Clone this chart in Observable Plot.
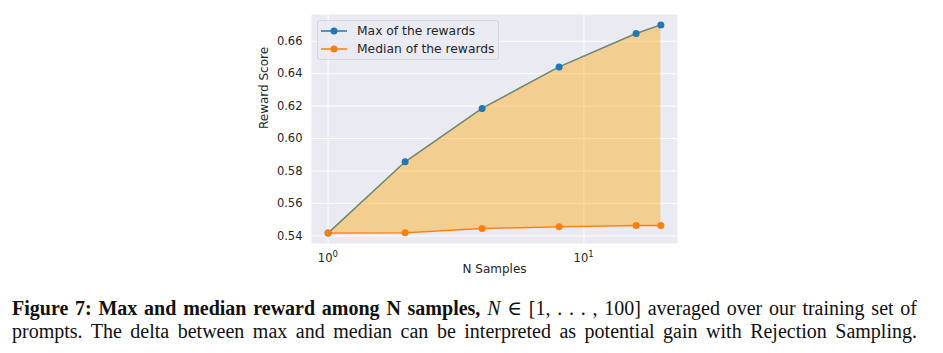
<!DOCTYPE html>
<html>
<head>
<meta charset="utf-8">
<script src="https://cdn.jsdelivr.net/npm/d3@7"></script>
<script src="https://cdn.jsdelivr.net/npm/@observablehq/plot@0.6"></script>
<style>
  html, body { margin: 0; padding: 0; background: white; }
  #wrap { position: relative; width: 943px; height: 353px; overflow: hidden; }
  #legend {
    position: absolute; left: 317px; top: 20px; width: 182px; height: 40px;
    box-sizing: border-box; border: 1px solid #d6d6de; border-radius: 3px;
    background: rgba(234,234,242,0.8);
    font-family: "DejaVu Sans", sans-serif; font-size: 12.3px; color: #262626;
  }
  .lg-row { position: absolute; left: 2px; height: 16px; display: flex; align-items: center; }
  .lg-row svg { margin-right: 9px; }
  .cap { position: absolute; left: 12px; width: 905px; font-family: "Liberation Serif", "DejaVu Serif", serif;
         font-size: 20px; color: #111; text-align: justify; text-align-last: justify; white-space: nowrap; line-height: 22px; }
</style>
</head>
<body>
<div id="wrap">
  <div id="chart"></div>
  <div id="legend"></div>
  <div class="cap" id="cap1" style="top:297px"></div>
  <div class="cap" id="cap2" style="top:320px"></div>
</div>
<script>
const nSamples = [1, 2, 4, 8, 16, 20];
const maxReward = [0.5417, 0.5857, 0.6186, 0.6442, 0.6648, 0.6701];
const medianReward = [0.5417, 0.5420, 0.5445, 0.5457, 0.5464, 0.5464];
const yTicks = [0.54, 0.56, 0.58, 0.60, 0.62, 0.64, 0.66];
const xTicks = [1, 10];
const xTickBase = "10";
const xTickExponents = ["0", "1"];
const seriesNames = ["Max of the rewards", "Median of the rewards"];
const seriesColors = ["#1f77b4", "#ff7f0e"];
const xLabel = "N Samples";
const yLabel = "Reward Score";

const rows = nSamples.map((n, i) => ({n, max: maxReward[i], med: medianReward[i]}));
const xTickRows = xTicks.map((t, i) => ({t, base: xTickBase, exp: xTickExponents[i]}));

const chart = Plot.plot({
  width: 943, height: 285,
  marginLeft: 311, marginRight: 266, marginTop: 14, marginBottom: 42,
  style: {fontFamily: "DejaVu Sans, sans-serif", fontSize: "11.5px", color: "#262626", background: "white"},
  x: {type: "log", domain: [Math.pow(10, -0.065), Math.pow(10, 1.366)], axis: null},
  y: {domain: [0.5353, 0.6765], axis: null},
  marks: [
    Plot.frame({fill: "#EAEAF2", stroke: null}),
    Plot.gridX(xTicks, {stroke: "white", strokeOpacity: 1, strokeWidth: 1}),
    Plot.gridY(yTicks, {stroke: "white", strokeOpacity: 1, strokeWidth: 1}),
    Plot.text(xTickRows, {x: "t", text: "base", frameAnchor: "bottom", dy: 18, dx: -3, fontSize: 11.5, fill: "#262626"}),
    Plot.text(xTickRows, {x: "t", text: "exp", frameAnchor: "bottom", dy: 13, dx: 7, fontSize: 8.5, fill: "#262626"}),
    Plot.axisY(yTicks, {tickSize: 0, tickPadding: 9, tickFormat: d3.format(".2f"), label: null, fill: "#262626"}),
    Plot.line(rows, {x: "n", y: "max", stroke: seriesColors[0], strokeWidth: 1.5}),
    Plot.line(rows, {x: "n", y: "med", stroke: seriesColors[1], strokeWidth: 1.5}),
    Plot.areaY(rows, {x: "n", y1: "med", y2: "max", fill: "orange", fillOpacity: 0.4}),
    Plot.dot(rows, {x: "n", y: "max", r: 3.5, fill: seriesColors[0], stroke: null}),
    Plot.dot(rows, {x: "n", y: "med", r: 3.5, fill: seriesColors[1], stroke: null}),
    Plot.text([yLabel], {frameAnchor: "left", dx: -47, rotate: -90, fontSize: 12, fill: "#262626"}),
    Plot.text([xLabel], {frameAnchor: "bottom", dy: 29, fontSize: 12, fill: "#262626"})
  ]
});
document.getElementById("chart").appendChild(chart);

// Legend
const legend = document.getElementById("legend");
seriesNames.forEach((name, i) => {
  const row = document.createElement("div");
  row.className = "lg-row";
  row.style.top = (2 + i * 17.5) + "px";
  row.innerHTML = `<svg width="28" height="10"><line x1="1" y1="5" x2="27" y2="5" stroke="${seriesColors[i]}" stroke-width="1.5"/><circle cx="14" cy="5" r="3.5" fill="${seriesColors[i]}"/></svg><span>${name}</span>`;
  legend.appendChild(row);
});

document.getElementById("cap1").innerHTML =
  '<b>Figure 7: Max and median reward among N samples,</b> <i>N</i> ∈ [1, . . . , 100] averaged over our training set of';
document.getElementById("cap2").textContent =
  'prompts. The delta between max and median can be interpreted as potential gain with Rejection Sampling.';
</script>
</body>
</html>
